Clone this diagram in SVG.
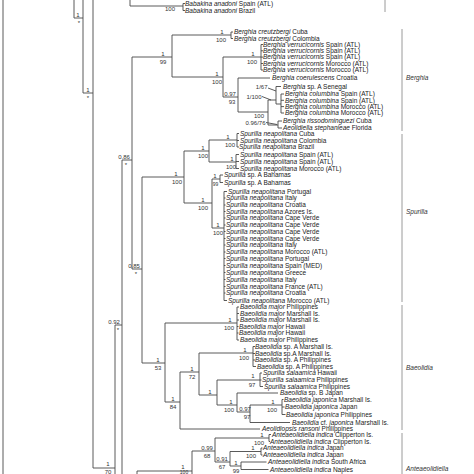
<svg xmlns="http://www.w3.org/2000/svg" width="474" height="474" viewBox="0 0 474 474">
<style>
text{font-family:"Liberation Sans",Arial,sans-serif;fill:#222}
.l{font-size:6.5px}
.s{font-size:6px;text-anchor:middle;fill:#333}
.e{font-size:6px;text-anchor:end;fill:#333}
.i{font-style:italic}
.c{font-size:6.5px;font-style:italic;fill:#333}
.t{stroke:#474747;stroke-width:0.9;fill:none}
.b{stroke:#9a9a9a;stroke-width:1;fill:none}
</style>
<rect width="474" height="474" fill="#fff"/>
<g id="connectors" class="t">
<path d="M3 0V474M74 0V18H83M83 0V93H93M93 0V468H115M115 325V474M115 325H122M122 160V474M122 160H132M132 57V269H142M132 57H172M142 177V363M142 177H184M142 363H165"/>
<path d="M130 0V6H183M185 3.5H183V10.5H185"/>
<path d="M172 35V77M172 35H231M233 32H231V38.5H233M172 77H223M223 57V97M223 57H261M261 44.5V70M261 44.5H263M261 50.8H263M261 57.1H263M261 63.5H263M261 70H263M223 97H238M238 78V112M238 78H270M238 112H268M268 100V125M268 100H276M276 86.5V104M276 86.5H281M276 104H281M281 94V113M281 94H284M281 100.3H284M281 106.6H284M281 113H284M268 125H278M278 121V128M278 121H282M278 128H282"/>
<path d="M268 88L276 91M262 96.5L271 100M266 122.5L277 124.5"/>
<path d="M184 151V203M184 151H209M209 140V162M209 140H237M237 133.5V147M237 133.5H239M237 140.5H239M237 147H239M209 162H236M236 154.5V168.5M236 154.5H239M236 161.5H239M236 168.5H239M184 203H212M212 179V228M212 179H220M220 175V182.5M220 175H223M220 182.5H223M212 228H224M224 191.5V300.5"/>
<path d="M224 191.5H227M224 198H225.5M224 205H225.5M224 211.5H225.5M224 218H225.5M224 225H225.5M224 231.5H225.5M224 238.5H225.5M224 245H225.5M224 252H225.5M224 258.5H225.5M224 265.5H225.5M224 272.5H225.5M224 279.5H225.5M224 286.5H225.5M224 293H225.5M224 300.5H227"/>
<path d="M165 323V402M165 323H237M237 307V340M237 307H239M237 313.5H239M237 320H239M237 326.5H238.5M237 333H238.5M237 340H239M165 402H180M180 372V429M180 372H199M199 353V395M199 353H253M253 346.5V366.5M253 346.5H255M253 353.5H255M253 360H255M253 366.5H256M199 395H217M217 380V405M217 380H260M260 373V386.5M260 373H262M260 380H261.5M260 386.5H263M217 405H237M237 393V412M237 393H278M237 412H250M250 405V422.5M250 405H282M282 399.5V414.5M282 399.5H283.5M282 407H284.5M282 414.5H285.5M250 422.5H290M180 429H260"/>
<path d="M137 471V474M137 471H192M192 451V474M192 451H215M215 438V462M215 438H269M269 434.5V441.5M269 434.5H271M269 441.5H270M215 462H230M230 451.5V466M230 451.5H261M261 448V455M261 448H262.5M261 455H262.5M230 466H241M241 462V469.5M241 462H266.5M241 469.5H268.5"/>
</g>
<g id="clade-bars" class="b">
<path d="M385 0V12M402 29V131M402 134V302M402 305V430M402 433V474"/>
</g>
<g id="supports">
<text class="s" x="78" y="16.5">1</text><text class="s" x="79" y="25">*</text>
<text class="s" x="88" y="91.5">1</text><text class="s" x="88" y="100">*</text>
<text class="s" x="170" y="11">100</text>
<text class="s" x="163" y="55.5">1</text><text class="s" x="163" y="63.5">99</text>
<text class="s" x="222" y="33.5">1</text><text class="s" x="221" y="41.5">100</text>
<text class="s" x="253" y="55.5">1</text><text class="s" x="252" y="63.5">100</text>
<text class="s" x="217" y="75.5">1</text><text class="s" x="217" y="83.5">100</text>
<text class="s" x="230" y="95.5">0.97</text><text class="s" x="232" y="103.5">93</text>
<text class="s" x="259" y="117.5">100</text>
<text class="e" x="267.5" y="89">1/67</text>
<text class="e" x="261.5" y="98.5">1/100</text>
<text class="e" x="265.5" y="124.5">0.96/76</text>
<text class="s" x="124" y="158.5">0.86</text><text class="s" x="126" y="167">*</text>
<text class="s" x="228" y="138.5">1</text><text class="s" x="230" y="146.5">100</text>
<text class="s" x="203" y="149.5">1</text><text class="s" x="203" y="157.5">100</text>
<text class="s" x="232" y="160.5">1</text><text class="s" x="231" y="168.5">100</text>
<text class="s" x="176" y="175.5">1</text><text class="s" x="177" y="183.5">100</text>
<text class="s" x="215" y="177.5">1</text><text class="s" x="215.5" y="185.5" style="font-size:5px">99</text>
<text class="s" x="203" y="201.5">1</text><text class="s" x="203" y="209.5">100</text>
<text class="s" x="218" y="226.5">1</text><text class="s" x="218" y="234.5">100</text>
<text class="s" x="134" y="267.5">0.85</text><text class="s" x="136" y="276">*</text>
<text class="s" x="114" y="323.5">0.92</text><text class="s" x="118" y="332">*</text>
<text class="s" x="230" y="321.5">1</text><text class="s" x="229" y="329.5">100</text>
<text class="s" x="158" y="361.5">1</text><text class="s" x="158" y="369.5">53</text>
<text class="s" x="173" y="400.5">1</text><text class="s" x="173" y="408.5">84</text>
<text class="s" x="192" y="370.5">1</text><text class="s" x="192" y="378.5">72</text>
<text class="s" x="245" y="351.5">1</text><text class="s" x="244" y="359.5">100</text>
<text class="s" x="210" y="393.5">1</text>
<text class="s" x="253" y="378">1</text><text class="s" x="252" y="386.5">97</text>
<text class="s" x="231" y="403.5">1</text><text class="s" x="229" y="411.5">100</text>
<text class="s" x="245" y="410.5">0.97</text><text class="s" x="247" y="418.5">97</text>
<text class="s" x="273" y="403.5">1</text><text class="s" x="272" y="411.5">100</text>
<text class="s" x="207" y="449.5">0.99</text><text class="s" x="207" y="457.5">68</text>
<text class="s" x="262" y="436.5">1</text><text class="s" x="259" y="444.5">100</text>
<text class="s" x="222" y="460.5">0.91</text><text class="s" x="222" y="468.5">67</text>
<text class="s" x="253" y="450">1</text><text class="s" x="251" y="458">100</text>
<text class="s" x="236" y="464.5">1</text><text class="s" x="236" y="472.5">99</text>
<text class="s" x="108" y="466">1</text><text class="s" x="108" y="473.5">70</text>
<text class="s" x="183" y="469">1</text><text class="s" x="184" y="473.8" style="font-size:5px">100</text>
</g>
<g id="clade-labels">
<text class="c" x="406" y="80">Berghia</text>
<text class="c" x="406" y="214">Spurilla</text>
<text class="c" x="406" y="370">Baeolidia</text>
<text class="c" x="406" y="471">Anteaeolidiella</text>
</g>
<g id="babakina">
<g id="n1"><text class="l" x="185" y="6.3"><tspan class="i">Babakina anadoni</tspan> Spain (ATL)</text></g>
<g id="n2"><text class="l" x="185" y="12.8"><tspan class="i">Babakina anadoni</tspan> Brazil</text></g>
</g>
<g id="berghia">
<g id="n3"><text class="l" x="234" y="34.3"><tspan class="i">Berghia creutzbergi</tspan> Cuba</text></g>
<g id="n4"><text class="l" x="234" y="40.8"><tspan class="i">Berghia creutzbergi</tspan> Colombia</text></g>
<g id="n5"><text class="l" x="263" y="46.8"><tspan class="i">Berghia verrucicornis</tspan> Spain (ATL)</text></g>
<g id="n6"><text class="l" x="263" y="53.1"><tspan class="i">Berghia verrucicornis</tspan> Spain (ATL)</text></g>
<g id="n7"><text class="l" x="263" y="59.4"><tspan class="i">Berghia verrucicornis</tspan> Spain (ATL)</text></g>
<g id="n8"><text class="l" x="263" y="65.8"><tspan class="i">Berghia verrucicornis</tspan> Morocco (ATL)</text></g>
<g id="n9"><text class="l" x="263" y="72.3"><tspan class="i">Berghia verrucicornis</tspan> Morocco (ATL)</text></g>
<g id="n10"><text class="l" x="272" y="80.3"><tspan class="i">Berghia coerulescens</tspan> Croatia</text></g>
<g id="n11"><text class="l" x="283" y="88.8"><tspan class="i">Berghia</tspan> sp. A Senegal</text></g>
<g id="n12"><text class="l" x="285" y="96.3"><tspan class="i">Berghia columbina</tspan> Spain (ATL)</text></g>
<g id="n13"><text class="l" x="285" y="102.6"><tspan class="i">Berghia columbina</tspan> Spain (ATL)</text></g>
<g id="n14"><text class="l" x="285" y="108.9"><tspan class="i">Berghia columbina</tspan> Morocco (ATL)</text></g>
<g id="n15"><text class="l" x="285" y="115.3"><tspan class="i">Berghia columbina</tspan> Morocco (ATL)</text></g>
<g id="n16"><text class="l" x="283" y="123.3"><tspan class="i">Berghia rissodominguezi</tspan> Cuba</text></g>
<g id="n17"><text class="l" x="283" y="130.3"><tspan class="i">Aeolidiella stephanieae</tspan> Florida</text></g>
</g>
<g id="spurilla">
<g id="n18"><text class="l" x="240" y="135.8"><tspan class="i">Spurilla neapolitana</tspan> Cuba</text></g>
<g id="n19"><text class="l" x="240" y="142.8"><tspan class="i">Spurilla neapolitana</tspan> Colombia</text></g>
<g id="n20"><text class="l" x="239" y="149.3"><tspan class="i">Spurilla neapolitana</tspan> Brazil</text></g>
<g id="n21"><text class="l" x="240" y="156.8"><tspan class="i">Spurilla neapolitana</tspan> Spain (ATL)</text></g>
<g id="n22"><text class="l" x="240" y="163.8"><tspan class="i">Spurilla neapolitana</tspan> Spain (ATL)</text></g>
<g id="n23"><text class="l" x="240" y="170.8"><tspan class="i">Spurilla neapolitana</tspan> Morocco (ATL)</text></g>
<g id="n24"><text class="l" x="224" y="177.3"><tspan class="i">Spurilla</tspan> sp. A Bahamas</text></g>
<g id="n25"><text class="l" x="224" y="184.8"><tspan class="i">Spurilla</tspan> sp. A Bahamas</text></g>
<g id="n26"><text class="l" x="228" y="193.8"><tspan class="i">Spurilla neapolitana</tspan> Portugal</text></g>
<g id="n27"><text class="l" x="226" y="200.3"><tspan class="i">Spurilla neapolitana</tspan> Italy</text></g>
<g id="n28"><text class="l" x="226" y="207.3"><tspan class="i">Spurilla neapolitana</tspan> Croatia</text></g>
<g id="n29"><text class="l" x="226" y="213.8"><tspan class="i">Spurilla neapolitana</tspan> Azores Is.</text></g>
<g id="n30"><text class="l" x="226" y="220.3"><tspan class="i">Spurilla neapolitana</tspan> Cape Verde</text></g>
<g id="n31"><text class="l" x="226" y="227.3"><tspan class="i">Spurilla neapolitana</tspan> Cape Verde</text></g>
<g id="n32"><text class="l" x="226" y="233.8"><tspan class="i">Spurilla neapolitana</tspan> Cape Verde</text></g>
<g id="n33"><text class="l" x="226" y="240.8"><tspan class="i">Spurilla neapolitana</tspan> Cape Verde</text></g>
<g id="n34"><text class="l" x="226" y="247.3"><tspan class="i">Spurilla neapolitana</tspan> Italy</text></g>
<g id="n35"><text class="l" x="226" y="254.3"><tspan class="i">Spurilla neapolitana</tspan> Morocco (ATL)</text></g>
<g id="n36"><text class="l" x="226" y="260.8"><tspan class="i">Spurilla neapolitana</tspan> Portugal</text></g>
<g id="n37"><text class="l" x="226" y="267.8"><tspan class="i">Spurilla neapolitana</tspan> Spain (MED)</text></g>
<g id="n38"><text class="l" x="226" y="274.8"><tspan class="i">Spurilla neapolitana</tspan> Greece</text></g>
<g id="n39"><text class="l" x="226" y="281.8"><tspan class="i">Spurilla neapolitana</tspan> Italy</text></g>
<g id="n40"><text class="l" x="226" y="288.8"><tspan class="i">Spurilla neapolitana</tspan> France (ATL)</text></g>
<g id="n41"><text class="l" x="226" y="295.3"><tspan class="i">Spurilla neapolitana</tspan> Croatia</text></g>
<g id="n42"><text class="l" x="228" y="302.8"><tspan class="i">Spurilla neapolitana</tspan> Morocco (ATL)</text></g>
</g>
<g id="baeolidia">
<g id="n43"><text class="l" x="240" y="309.3"><tspan class="i">Baeolidia major</tspan> Philippines</text></g>
<g id="n44"><text class="l" x="240" y="315.8"><tspan class="i">Baeolidia major</tspan> Marshall Is.</text></g>
<g id="n45"><text class="l" x="240" y="322.3"><tspan class="i">Baeolidia major</tspan> Marshall Is.</text></g>
<g id="n46"><text class="l" x="239" y="328.8"><tspan class="i">Baeolidia major</tspan> Hawaii</text></g>
<g id="n47"><text class="l" x="239" y="335.3"><tspan class="i">Baeolidia major</tspan> Hawaii</text></g>
<g id="n48"><text class="l" x="240" y="342.3"><tspan class="i">Baeolidia major</tspan> Philippines</text></g>
<g id="n49"><text class="l" x="255" y="348.8"><tspan class="i">Baeolidia</tspan> sp. A Marshall Is.</text></g>
<g id="n50"><text class="l" x="255" y="355.8"><tspan class="i">Baeolidia</tspan> sp.A Marshall Is.</text></g>
<g id="n51"><text class="l" x="255" y="362.3"><tspan class="i">Baeolidia</tspan> sp. A Philippines</text></g>
<g id="n52"><text class="l" x="257" y="368.8"><tspan class="i">Baeolidia</tspan> sp. A Philippines</text></g>
<g id="n53"><text class="l" x="263" y="375.3"><tspan class="i">Spurilla salaamica</tspan> Hawaii</text></g>
<g id="n54"><text class="l" x="262" y="382.3"><tspan class="i">Spurilla salaamica</tspan> Philippines</text></g>
<g id="n55"><text class="l" x="264" y="388.8"><tspan class="i">Spurilla salaamica</tspan> Philippines</text></g>
<g id="n56"><text class="l" x="280" y="395.3"><tspan class="i">Baeolidia</tspan> sp. B Japan</text></g>
<g id="n57"><text class="l" x="284" y="401.8"><tspan class="i">Baeolidia japonica</tspan> Marshall Is.</text></g>
<g id="n58"><text class="l" x="285" y="409.3"><tspan class="i">Baeolidia japonica</tspan> Japan</text></g>
<g id="n59"><text class="l" x="286" y="416.8"><tspan class="i">Baeolidia japonica</tspan> Philippines</text></g>
<g id="n60"><text class="l" x="292" y="424.8"><tspan class="i">Baeolidia</tspan> cf. <tspan class="i">japonica</tspan> Marshall Is.</text></g>
<g id="n61"><text class="l" x="262" y="431.3"><tspan class="i">Aeolidiopsis ransoni</tspan> Philippines</text></g>
</g>
<g id="anteaeolidiella">
<g id="n62"><text class="l" x="272" y="436.8"><tspan class="i">Anteaeolidiella indica</tspan> Clipperton Is.</text></g>
<g id="n63"><text class="l" x="270" y="443.8"><tspan class="i">Anteaeolidiella indica</tspan> Clipperton Is.</text></g>
<g id="n64"><text class="l" x="263" y="450.3"><tspan class="i">Anteaeolidiella indica</tspan> Japan</text></g>
<g id="n65"><text class="l" x="263" y="457.3"><tspan class="i">Anteaeolidiella indica</tspan> Japan</text></g>
<g id="n66"><text class="l" x="268" y="464.3"><tspan class="i">Anteaeolidiella indica</tspan> South Africa</text></g>
<g id="n67"><text class="l" x="270" y="471.8"><tspan class="i">Anteaeolidiella indica</tspan> Naples</text></g>
</g>
</svg>
